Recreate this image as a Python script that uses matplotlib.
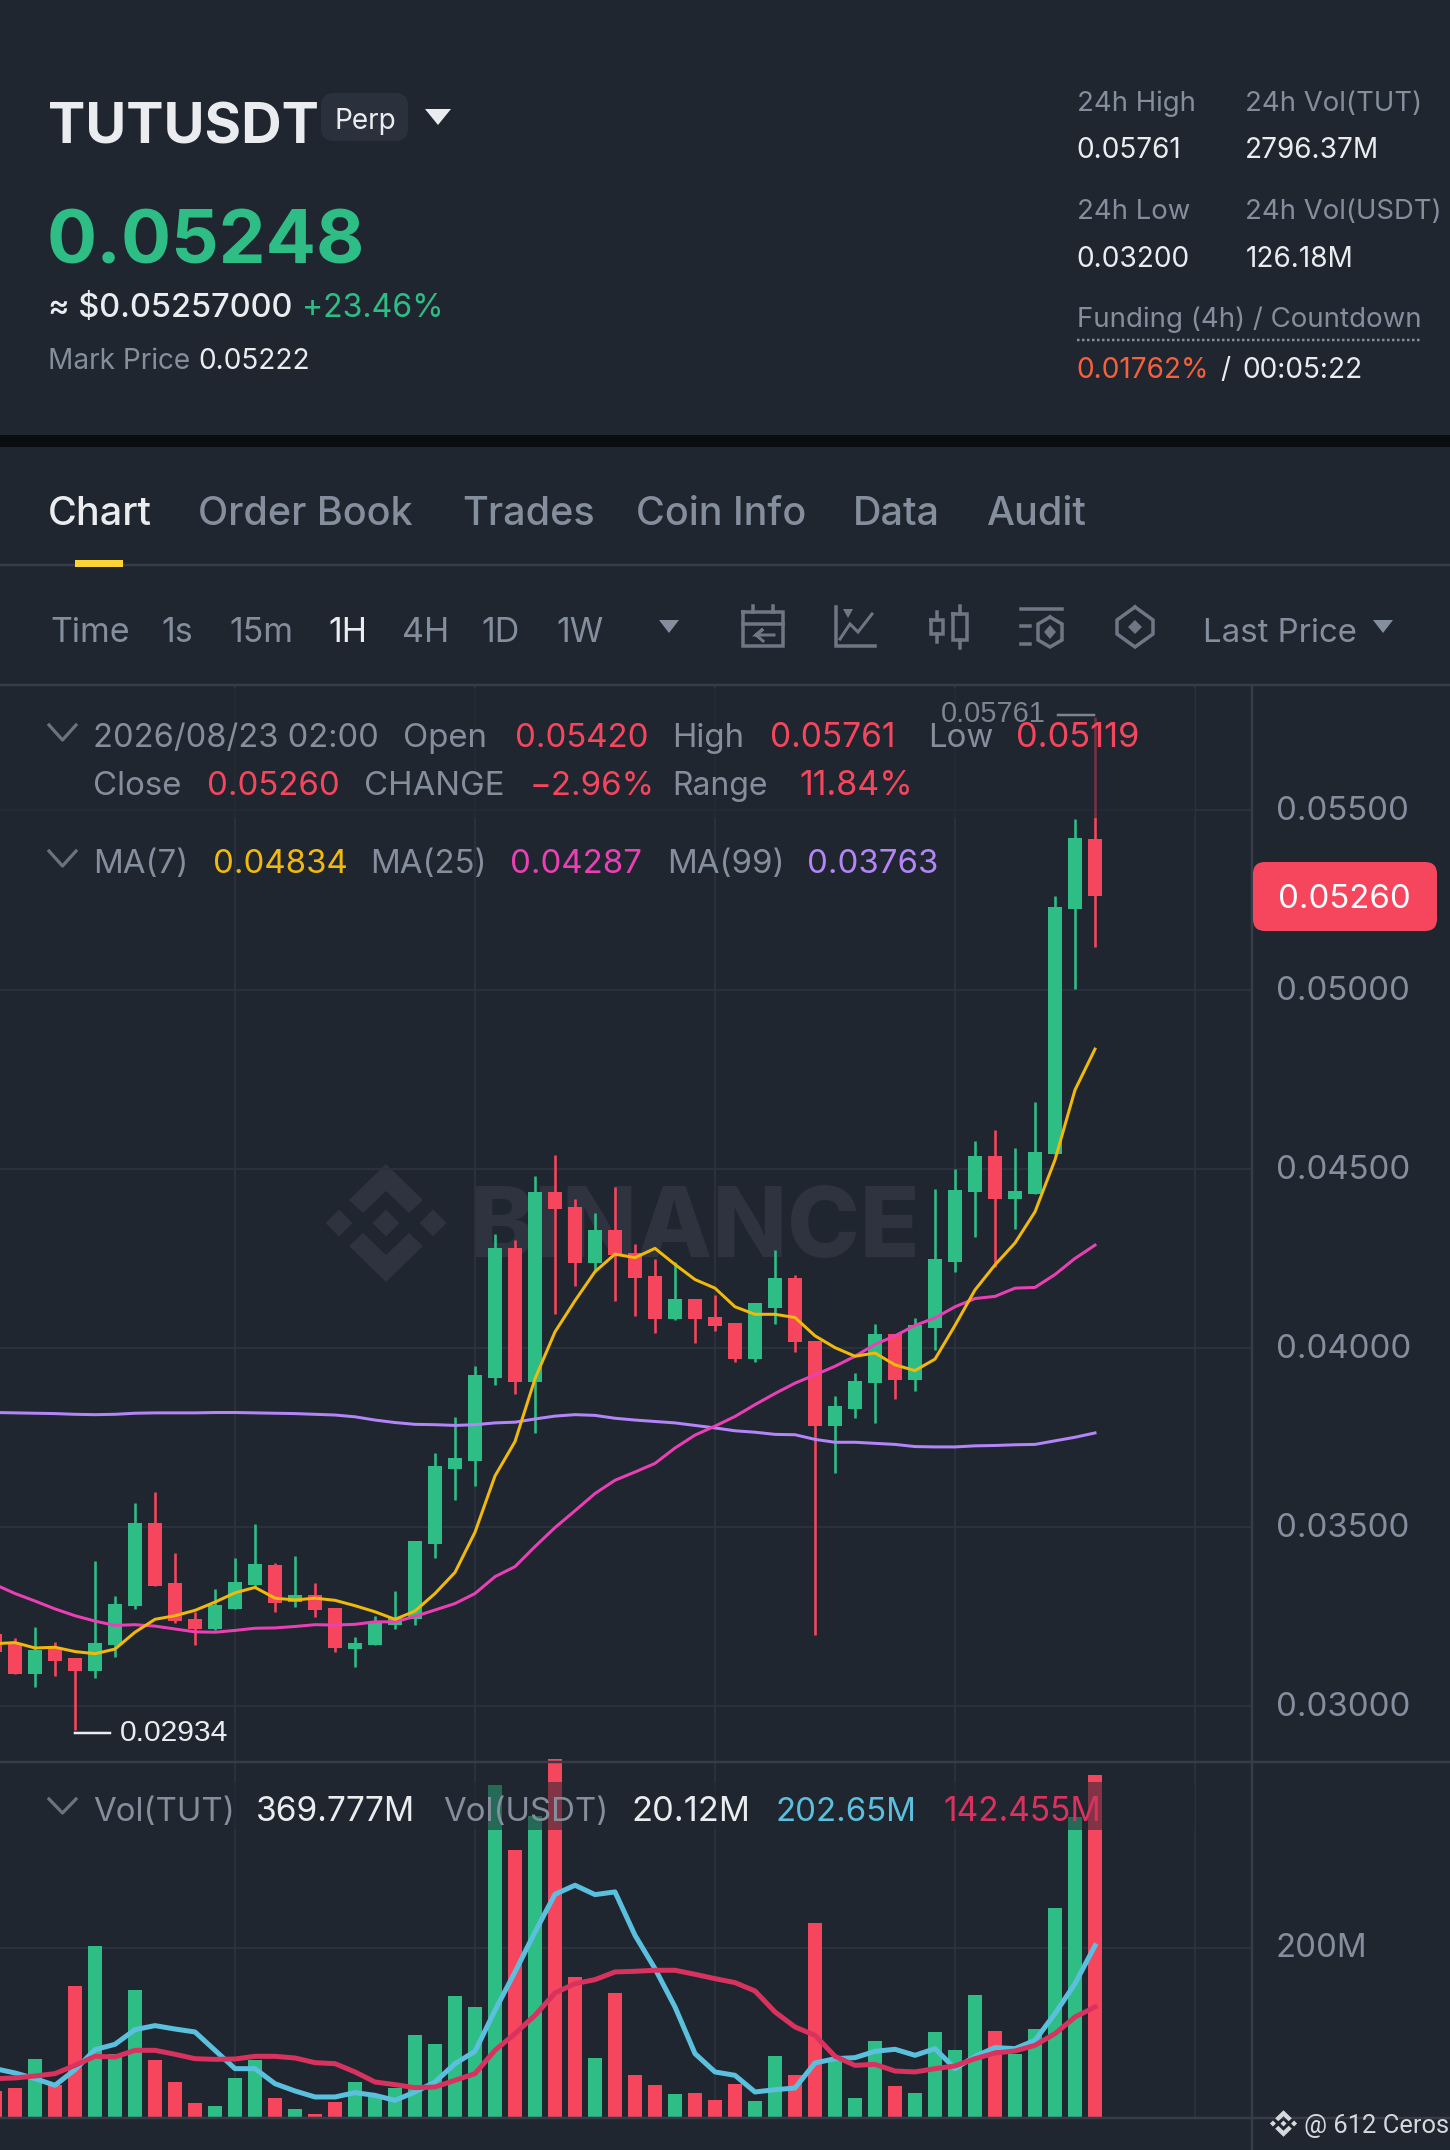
import matplotlib
matplotlib.use("Agg")
import matplotlib.pyplot as plt
from matplotlib.patches import Polygon, Rectangle, FancyBboxPatch
from matplotlib.transforms import ScaledTranslation

plt.rcParams['font.family'] = ['Inter', 'Noto Sans', 'DejaVu Sans']

# ---------- data ----------
index = list(range(-1, 55))
opens = [0.03203,0.03178,0.03091,0.03162,0.03135,0.03100,0.03170,0.03281,0.03511,0.03345,0.03244,0.03216,0.03272,0.03340,0.03395,0.03290,0.03312,0.03274,0.03160,0.03170,0.03228,0.03244,0.03453,0.03661,0.03685,0.03916,0.04278,0.03904,0.04436,0.04394,0.04238,0.04329,0.04266,0.04202,0.04081,0.04137,0.04087,0.04070,0.03970,0.04112,0.04195,0.04020,0.03782,0.03831,0.03903,0.04038,0.03912,0.04057,0.04241,0.04434,0.04535,0.04416,0.04431,0.04542,0.05225,0.05420]
highs = [0.03215,0.03190,0.03222,0.03181,0.03135,0.03406,0.03309,0.03567,0.03598,0.03428,0.03262,0.03328,0.03413,0.03510,0.03401,0.03419,0.03343,0.03274,0.03193,0.03253,0.03322,0.03461,0.03706,0.03807,0.03951,0.04319,0.04300,0.04479,0.04539,0.04416,0.04378,0.04450,0.04290,0.04248,0.04241,0.04137,0.04148,0.04070,0.04125,0.04273,0.04205,0.04020,0.03866,0.03930,0.04067,0.04038,0.04084,0.04443,0.04500,0.04578,0.04608,0.04558,0.04685,0.05262,0.05477,0.05761]
lows = [0.03150,0.03091,0.03054,0.03085,0.02934,0.03079,0.03138,0.03271,0.03337,0.03232,0.03172,0.03212,0.03272,0.03334,0.03262,0.03276,0.03249,0.03153,0.03110,0.03170,0.03216,0.03226,0.03413,0.03577,0.03616,0.03898,0.03873,0.03762,0.04095,0.04173,0.04213,0.04131,0.04088,0.04041,0.04077,0.04013,0.04047,0.03962,0.03962,0.04068,0.03990,0.03200,0.03650,0.03806,0.03792,0.03859,0.03880,0.03994,0.04212,0.04309,0.04226,0.04333,0.04431,0.04542,0.05002,0.05119]
closes = [0.03153,0.03091,0.03157,0.03128,0.03100,0.03176,0.03287,0.03511,0.03337,0.03237,0.03216,0.03282,0.03347,0.03396,0.03289,0.03312,0.03268,0.03162,0.03176,0.03232,0.03247,0.03461,0.03671,0.03693,0.03925,0.04278,0.03904,0.04436,0.04387,0.04237,0.04330,0.04259,0.04194,0.04081,0.04137,0.04080,0.04061,0.03970,0.04125,0.04195,0.04016,0.03782,0.03838,0.03909,0.04038,0.03910,0.04063,0.04248,0.04440,0.04535,0.04416,0.04437,0.04547,0.05231,0.05423,0.05260]
ma7 = [0.03175,0.03178,0.03163,0.03165,0.03153,0.03147,0.03160,0.03207,0.03243,0.03253,0.03268,0.03291,0.03317,0.03332,0.03302,0.03297,0.03302,0.03296,0.03281,0.03264,0.03243,0.03266,0.03315,0.03374,0.03486,0.03643,0.03739,0.03914,0.04045,0.04132,0.04213,0.04262,0.04252,0.04278,0.04233,0.04191,0.04167,0.04115,0.04094,0.04094,0.04085,0.04034,0.04001,0.03977,0.03986,0.03953,0.03937,0.03969,0.04063,0.04162,0.04232,0.04293,0.04380,0.04525,0.04720,0.04834]
ma25 = [0.03340,0.03315,0.03294,0.03272,0.03253,0.03238,0.03226,0.03228,0.03224,0.03216,0.03208,0.03207,0.03212,0.03218,0.03219,0.03223,0.03228,0.03227,0.03229,0.03236,0.03236,0.03251,0.03269,0.03287,0.03315,0.03362,0.03390,0.03446,0.03499,0.03546,0.03594,0.03631,0.03654,0.03678,0.03721,0.03757,0.03782,0.03809,0.03842,0.03873,0.03902,0.03925,0.03949,0.03977,0.04010,0.04034,0.04063,0.04084,0.04115,0.04138,0.04144,0.04167,0.04169,0.04205,0.04250,0.04287]
ma99 = [0.03820,0.03819,0.03818,0.03817,0.03815,0.03814,0.03815,0.03818,0.03819,0.03819,0.03819,0.03820,0.03820,0.03819,0.03818,0.03817,0.03815,0.03813,0.03808,0.03799,0.03792,0.03787,0.03786,0.03784,0.03786,0.03791,0.03793,0.03802,0.03810,0.03814,0.03812,0.03804,0.03799,0.03795,0.03791,0.03784,0.03777,0.03769,0.03765,0.03759,0.03758,0.03745,0.03737,0.03737,0.03734,0.03731,0.03725,0.03724,0.03724,0.03727,0.03728,0.03730,0.03731,0.03741,0.03751,0.03763]
volume = [30.4,34.7,68.2,37.5,154.6,202.4,75,149.9,67.9,41,17,13.4,46.5,67.9,22.9,9.5,3.6,17.4,41.8,25.6,34.7,97,86,143.6,130.2,392.5,315.6,355.8,423.3,165.3,70.2,146.4,49.7,38.3,27.2,28,20.5,39.4,18.5,71.8,50.1,230,67,22.5,89.5,36.3,28.8,100.2,79.7,144.8,101.4,74.2,104.1,246.9,355,404.3]
vol_ma_fast = [57.2,52.1,45.4,37.5,56,79.7,86,103.4,108.1,104.1,100.6,78.9,57.2,57.2,39.4,30.8,23.7,23.7,28.8,25.6,19.7,29.6,41.4,63.1,77.7,126.2,171.6,218.9,263.5,274.2,263.1,266.3,215,175.5,130.2,75,53.3,49.3,29.6,32.3,34.3,63.9,69,70.2,77.7,80.1,73,80.9,57.2,71.8,82.1,80.9,90.7,122.3,157.8,202.65]
vol_ma_slow = [45.4,46.2,48.5,51.3,61.1,71.8,71,78.9,78.9,74.2,69,68.2,68.6,71.8,71.8,69.8,64.3,63.1,53.3,41.4,38.3,34.7,35.5,43.4,51.3,78.9,98.6,120.3,146.7,157.8,162.5,171.6,172.4,173.6,173.6,168.8,163.7,159,149.1,124.3,106.5,96.6,71.8,61.1,62.3,54.4,53.3,57.2,60.4,69,75.7,78.1,84.8,98.6,118.3,130.2]
price_ticks = [0.03, 0.035, 0.04, 0.045, 0.05, 0.055]
price_labels = ["0.03000", "0.03500", "0.04000", "0.04500", "0.05000", "0.05500"]
vol_ticks = [200]
vol_labels = ["200M"]
time_ticks = [11, 23, 35, 47, 59]

# ---------- style ----------
BG = '#1f2630'; GRID = '#2a313c'; SEP = '#363d49'
GREEN = '#2EBD85'; RED = '#F6465D'; GRAY = '#848E9C'; WHITE = '#EAECEF'
YEL = '#F0B90B'; PINK = '#EB40B5'; PURP = '#B385F8'; VBLUE = '#5BC0DE'; VRED = '#D8325F'
WM = '#2e333f'; ICON = '#6f7784'
W, H = 1450, 2150
px = 0.72

fig = plt.figure(figsize=(14.5, 21.5), dpi=100, facecolor=BG)

def rect(l, t, r, b):
    return [l / W, 1 - b / H, (r - l) / W, (b - t) / H]

def shift(dy_px):
    return ScaledTranslation(0, dy_px / 100, fig.dpi_scale_trans)

# background watermark layer
bg = fig.add_axes([0, 0, 1, 1], zorder=0)
bg.set_xlim(0, W); bg.set_ylim(H, 0); bg.axis('off')

def logo(a, cx, cy, s, color):
    d = 13.4 * s
    for ox in (-47, 0, 47):
        c = cx + ox * s
        a.add_patch(Polygon([(c - d, cy), (c, cy - d), (c + d, cy), (c, cy + d)], fc=color, ec='none'))
    for sgn in (-1, 1):
        pts = [(0, 59), (37, 23), (23, 10), (0, 32), (-23, 10), (-37, 23)]
        a.add_patch(Polygon([(cx + x * s, cy + sgn * y * s) for x, y in pts], fc=color, ec='none'))

logo(bg, 386, 1223, 1.0, WM)
bg.text(470, 1257, "BINANCE", fontsize=98 * px, fontweight=800, color=WM, va='baseline', ha='left')

# price panel
ax = fig.add_axes(rect(0, 686, 1252, 1762), zorder=1, facecolor='none')
xl = (-0.75, 61.85)
ax.set_xlim(*xl)
ax.set_ylim(0.04 - (1762 - 1348) / 35840, 0.04 + (1348 - 686) / 35840)
for s in ax.spines.values():
    s.set_visible(False)
ax.set_xticks(time_ticks); ax.set_xticklabels([])
ax.set_yticks(price_ticks); ax.set_yticklabels(price_labels)
ax.yaxis.tick_right()
ax.tick_params(axis='both', length=0)
ax.tick_params(axis='y', labelsize=33 * px, labelcolor=GRAY, pad=23.5 * px)
ax.grid(True, color=GRID, lw=2 * px, zorder=0)
ax.set_axisbelow(True)
for lab in ax.get_yticklabels():
    lab.set_transform(lab.get_transform() + shift(2))

cols = [GREEN if c >= o else RED for o, c in zip(opens, closes)]
ax.vlines(index, lows, highs, colors=cols, lw=2.6 * px, zorder=2)
ax.bar(index, [abs(c - o) for o, c in zip(opens, closes)], bottom=[min(o, c) for o, c in zip(opens, closes)],
       width=0.7, color=cols, lw=0, zorder=3)
ax.plot(index, ma99, color=PURP, lw=3 * px, zorder=4)
ax.plot(index, ma25, color=PINK, lw=3 * px, zorder=5)
ax.plot(index, ma7, color=YEL, lw=3 * px, zorder=6)

# extreme markers
lo = min(lows); lo_i = index[lows.index(lo)]
ax.plot([lo_i, lo_i + 1.75], [lo, lo], color=WHITE, lw=2.5 * px, zorder=7,
        transform=ax.transData + shift(-3))
ax.text(lo_i + 2.25, lo, f"{lo:.5f}", color=WHITE, fontsize=30 * px, family='Liberation Sans', va='center', ha='left', zorder=7,
        transform=ax.transData + shift(-3))

# volume panel
axv = fig.add_axes(rect(0, 1762, 1252, 2117), zorder=2, facecolor='none')
axv.set_xlim(*xl)
axv.set_ylim(0, 420)
for s in axv.spines.values():
    s.set_visible(False)
axv.set_xticks(time_ticks); axv.set_xticklabels([])
axv.set_yticks(vol_ticks); axv.set_yticklabels(vol_labels)
axv.yaxis.tick_right()
axv.tick_params(axis='both', length=0)
axv.tick_params(axis='y', labelsize=33 * px, labelcolor=GRAY, pad=23 * px)
axv.grid(True, color=GRID, lw=2 * px, zorder=0)
axv.set_axisbelow(True)
for lab in axv.get_yticklabels():
    lab.set_transform(lab.get_transform() + shift(3))
bars = axv.bar(index, volume, width=0.7, color=cols, lw=0, zorder=3, clip_on=False)
bars[0].set_clip_on(True)
axv.plot(index, vol_ma_fast, color=VBLUE, lw=5 * px, zorder=4)
axv.plot(index, vol_ma_slow, color=VRED, lw=5 * px, zorder=5)

# overlay chrome and text
o = fig.add_axes([0, 0, 1, 1], zorder=3, facecolor='none')
o.set_xlim(0, W); o.set_ylim(H, 0); o.axis('off')

def hline(y, x0=0, x1=W, c=SEP, lw=2.5):
    o.plot([x0, x1], [y, y], color=c, lw=lw * px, solid_capstyle='butt', zorder=1)

def t(x, y, s, size=33, color=GRAY, weight='normal', ha='left', family=None):
    kw = {'family': family} if family else {}
    o.text(x, y, s, fontsize=size * px, color=color, fontweight=weight, ha=ha, va='baseline', **kw)

def tri(cx, y0, y1, hw, color):
    o.add_patch(Polygon([(cx - hw, y0), (cx + hw, y0), (cx, y1)], fc=color, ec='none'))

def chev(x0, x1, y0, y1):
    o.plot([x0, (x0 + x1) / 2, x1], [y0, y1, y0], color='#6b7380', lw=3.2 * px)

# band behind panel legends
o.add_patch(Rectangle((0, 688), 1195, 130, fc=BG, ec='none', alpha=0.6))
o.add_patch(Rectangle((0, 1782), 1195, 48, fc=BG, ec='none', alpha=0.55))

# bands and separators
o.add_patch(Rectangle((0, 435), W, 12, fc='#0a0d10', ec='none'))
hline(565); hline(685); hline(1762); hline(2118)
o.plot([1252, 1252], [685, H], color=SEP, lw=2.5 * px, zorder=1)
o.add_patch(Rectangle((75, 560), 48, 7, fc='#FCD535', ec='none', zorder=2))

# header
t(48, 144, "TUTUSDT", 56, WHITE, 'bold')
o.add_patch(FancyBboxPatch((327, 99), 75, 36, boxstyle="round,pad=0,rounding_size=6", fc='#2a303c', ec='#2a303c', lw=12 * px))
t(335, 129, "Perp", 28, WHITE)
tri(438, 109, 125, 13, WHITE)
t(47, 264, "0.05248", 74.5, GREEN, 'bold')
t(48, 317, "≈ $0.05257000", 32.5, WHITE, 'medium')
t(302, 317, "+23.46%", 32, GREEN)
t(48, 369, "Mark Price", 28, GRAY)
t(198, 369, "0.05222", 28, WHITE)
t(1077, 111, "24h High", 27.5); t(1245, 111, "24h Vol(TUT)", 27.5)
t(1076, 158, "0.05761", 28, WHITE); t(1245, 158, "2796.37M", 28, WHITE)
t(1077, 219, "24h Low", 27.5); t(1245, 219, "24h Vol(USDT)", 27.5)
t(1076, 267, "0.03200", 28, WHITE); t(1246, 267, "126.18M", 28, WHITE)
t(1077, 327, "Funding (4h) / Countdown", 27.7)
o.plot([1077, 1421], [340, 340], color=GRAY, lw=2.5 * px, ls=(0, (1, 1)))
t(1076, 378, "0.01762%", 28, '#F7603C'); t(1225, 378, "/", 28, WHITE, ha='center'); t(1242, 378, "00:05:22", 28, WHITE)

# tabs
for x, s, c in [(48, "Chart", WHITE), (198, "Order Book", GRAY), (462, "Trades", GRAY),
                (636, "Coin Info", GRAY), (853, "Data", GRAY), (986, "Audit", GRAY)]:
    t(x, 525, s, 39.5, c, 'medium')

# toolbar
for x, s, c in [(50, "Time", GRAY), (161, "1s", GRAY), (229, "15m", GRAY), (328, "1H", WHITE),
                (402, "4H", GRAY), (481, "1D", GRAY), (556, "1W", GRAY)]:
    t(x, 642, s, 34, c)
t(1203, 642, "Last Price", 33, GRAY)
tri(669, 620, 633, 10, GRAY)
tri(1383, 620, 633, 10, GRAY)

def pl(xs, ys, closed=False, lw=3.5):
    if closed:
        xs = list(xs) + [xs[0]]; ys = list(ys) + [ys[0]]
    o.plot(xs, ys, color=ICON, lw=lw * px, solid_joinstyle='miter')

# calendar
pl([743, 783, 783, 743], [612, 612, 646, 646], True)
pl([743, 783], [624, 624]); pl([753, 753], [606, 612]); pl([773, 773], [606, 612])
pl([774, 756, 763, 756, 763], [635, 635, 629, 635, 641], lw=3)
# chart
pl([836, 836, 875], [607, 646, 646])
pl([840, 850, 858, 872], [639, 624, 632, 614], lw=3)
tri(848, 609, 618, 5, ICON)
# candles
pl([931, 943, 943, 931], [620, 620, 634, 634], True); pl([937, 937], [612, 620]); pl([937, 937], [634, 642])
pl([953, 967, 967, 953], [614, 614, 640, 640], True); pl([960, 960], [606, 614]); pl([960, 960], [640, 648])
# display settings
pl([1021, 1062], [609, 609]); pl([1021, 1030], [626, 626]); pl([1021, 1030], [644, 644])
pl([1050, 1062, 1062, 1050, 1038, 1038], [617, 624, 640, 647, 640, 624], True)
o.add_patch(Polygon([(1050, 625), (1056, 632), (1050, 639), (1044, 632)], fc=ICON, ec='none'))
# hexagon
pl([1135, 1153, 1153, 1135, 1117, 1117], [607, 620, 634, 647, 634, 620], True)
o.add_patch(Polygon([(1135, 620), (1142, 627), (1135, 634), (1128, 627)], fc=ICON, ec='none'))

# OHLC legend
chev(49, 76, 725, 740)
t(93, 747, "2026/08/23 02:00", 32.6); t(403, 747, "Open"); t(515, 747, f"{opens[-1]:.5f}", color=RED)
t(672, 747, "High"); t(770, 747, f"{highs[-1]:.5f}", 33.5, color=RED)
t(928, 747, "Low"); t(1016, 747, f"{lows[-1]:.5f}", 34.5, color=RED)
t(93, 795, "Close"); t(207, 795, f"{closes[-1]:.5f}", color=RED)
t(364, 795, "CHANGE"); t(530, 795, "−2.96%", color=RED)
t(672, 795, "Range", 32); t(799, 795, "11.84%", 34, color=RED)
chev(49, 76, 851, 866)
t(93, 873, "MA(7)"); t(213, 873, f"{ma7[-1]:.5f}", color=YEL)
t(370, 873, "MA(25)"); t(510, 873, f"{ma25[-1]:.5f}", color=PINK)
t(667, 873, "MA(99)"); t(807, 873, f"{ma99[-1]:.5f}", color=PURP)

# high marker
t(941, 722, f"{max(highs):.5f}", 29, '#7d8592', family='Liberation Sans')
o.plot([1058, 1094], [715, 715], color='#7d8592', lw=2.5 * px)

# last price badge
o.add_patch(FancyBboxPatch((1265, 874), 160, 45, boxstyle="round,pad=12,rounding_size=12", fc=RED, ec='none'))
t(1278, 908, f"{closes[-1]:.5f}", 33, '#FFFFFF')

# volume legend
chev(49, 76, 1799, 1813)
t(93, 1821, "Vol(TUT)"); t(256, 1821, "369.777M", 33.5, color=WHITE)
t(443, 1821, "Vol(USDT)"); t(631, 1821, "20.12M", 34.5, color=WHITE)
t(776, 1821, "202.65M", color=VBLUE); t(943, 1821, "142.455M", 33.5, color=VRED)

# footer mark
logo(o, 1283.5, 2123.5, 0.225, '#d5d8dc')
t(1304, 2133, "@ 612 Ceros", 25.5, '#d5d8dc', family='Roboto')

fig.savefig("out.png", dpi=100, facecolor=BG)
